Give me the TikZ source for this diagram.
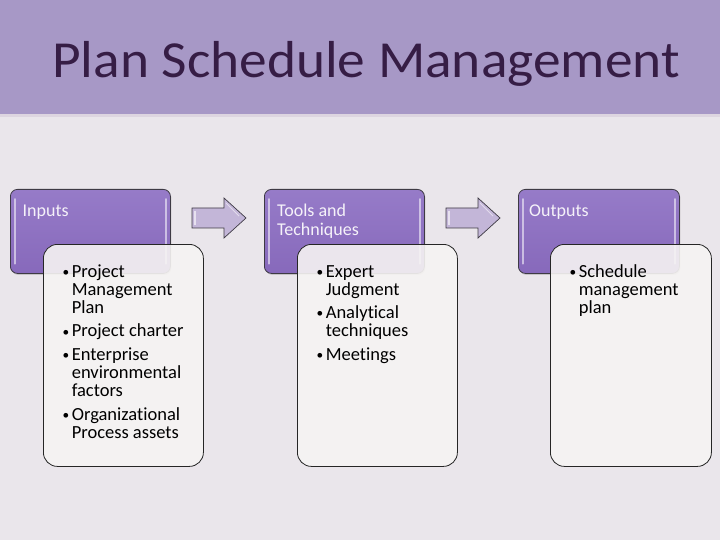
\documentclass[tikz,border=0pt]{standalone}
\usepackage{fontspec}
\setmainfont{Carlito}[Ligatures={NoCommon,NoDiscretionary,NoContextual}]
\usetikzlibrary{shadows}
\definecolor{bgcol}{HTML}{EAE6EB}
\definecolor{bandcol}{HTML}{A798C6}
\definecolor{stripcol}{HTML}{DDD5E0}
\definecolor{titlecol}{HTML}{361D45}
\definecolor{headtop}{HTML}{967BC8}
\definecolor{headbot}{HTML}{8769BB}
\definecolor{boxedge}{HTML}{3E3A44}
\definecolor{innerfill}{HTML}{F6F4F3}
\definecolor{arrowfill}{HTML}{C3B6D8}
\newcommand\bul{\makebox[9.6pt][l]{\hspace*{0.5pt}\raisebox{0.9pt}{\scalebox{0.72}{\textbullet}}}}
\newcommand\ind{\hspace*{9.6pt}}
\newcommand\bodyfont{\fontsize{18.5}{18.3}\selectfont}
\tikzset{
  headbox/.style={draw=boxedge, line width=0.8pt, rounded corners=7pt,
    top color=headtop, bottom color=headbot, anchor=north west,
    inner sep=0pt, minimum height=84pt,
    drop shadow={shadow xshift=1pt, shadow yshift=-1.5pt, opacity=0.35}},
  innerbox/.style={draw=black!85, line width=0.8pt, rounded corners=14pt,
    fill=innerfill, fill opacity=0.9, anchor=north west, inner sep=0pt,
    minimum height=222pt},
  headtext/.style={anchor=base west, inner sep=0pt, text=white!90!headtop,
    font=\fontsize{18}{18.3}\selectfont, align=left},
  bodytext/.style={anchor=base west, inner sep=0pt, text=black},
  gloss/.style={white, opacity=0.55, line width=1.6pt, line cap=round},
  blockarrow/.style={draw=boxedge, line width=0.7pt, fill=arrowfill, line join=miter}
}
\begin{document}
\begin{tikzpicture}[x=1pt,y=-1pt]
\useasboundingbox (0,0) rectangle (720,540);
% background
\fill[bgcol] (0,0) rectangle (720,540);
\fill[bandcol] (0,0) rectangle (720,114);
\fill[stripcol] (0,114) rectangle (720,117.5);
% title
\node[anchor=base west, inner sep=0pt, text=titlecol, font=\fontsize{52}{60}\selectfont] (title) at (52,78) {\scalebox{1.065}[1]{Plan Schedule Management}};

% header boxes
\node[headbox, minimum width=160pt] (h1) at (10,189) {};
\node[headbox, minimum width=160pt] (h2) at (264,189) {};
\node[headbox, minimum width=161pt] (h3) at (518,189) {};
\foreach \h in {h1,h2,h3}{
  \draw[gloss] ([xshift=5pt,yshift=-10pt]\h.north west) -- ([xshift=5pt,yshift=10pt]\h.south west);
  \draw[gloss] ([xshift=-5pt,yshift=-10pt]\h.north east) -- ([xshift=-5pt,yshift=10pt]\h.south east);
}
\node[headtext] (h1t) at (22.5,217) {Inputs};
\node[headtext] (h2t) at (277,217) {\vtop{\hbox{Tools and}\hbox{Techniques}}};
\node[headtext] (h3t) at (529,217) {Outputs};

% arrows
\foreach \ax/\nm in {192/a1, 446/a2}{
  \draw[blockarrow] (\ax,208) -- (\ax+32,208) -- (\ax+32,198) -- (\ax+54,218)
    -- (\ax+32,238) -- (\ax+32,228) -- (\ax,228) -- cycle;
  \draw[white, opacity=0.6, line width=1.2pt] (\ax+3,211) -- (\ax+3,225);
  \draw[white, opacity=0.5, line width=1pt] (\ax+34,203) -- (\ax+47,216);
  \coordinate (\nm) at (\ax+27,218);
}

% inner boxes
\node[innerbox, minimum width=160pt] (b1) at (43,244) {};
\node[innerbox, minimum width=160pt] (b2) at (297,244) {};
\node[innerbox, minimum width=161pt] (b3) at (550,244) {};

\node[bodytext] (t1) at (62,277) {\bodyfont\vtop{\baselineskip=18.3pt
  \hbox{\bul Project}
  \hbox{\ind Management}
  \hbox{\ind Plan}\vskip5pt
  \hbox{\bul Project charter}\vskip5pt
  \hbox{\bul Enterprise}
  \hbox{\ind environmental}
  \hbox{\ind factors}\vskip5pt
  \hbox{\bul Organizational}
  \hbox{\ind Process assets}}};

\node[bodytext] (t2) at (316,277) {\bodyfont\vtop{\baselineskip=18.3pt
  \hbox{\bul Expert}
  \hbox{\ind Judgment}\vskip5pt
  \hbox{\bul Analytical}
  \hbox{\ind techniques}\vskip5pt
  \hbox{\bul Meetings}}};

\node[bodytext] (t3) at (569,277) {\bodyfont\vtop{\baselineskip=18.3pt
  \hbox{\bul Schedule}
  \hbox{\ind management}
  \hbox{\ind plan}}};
\end{tikzpicture}
\end{document}
